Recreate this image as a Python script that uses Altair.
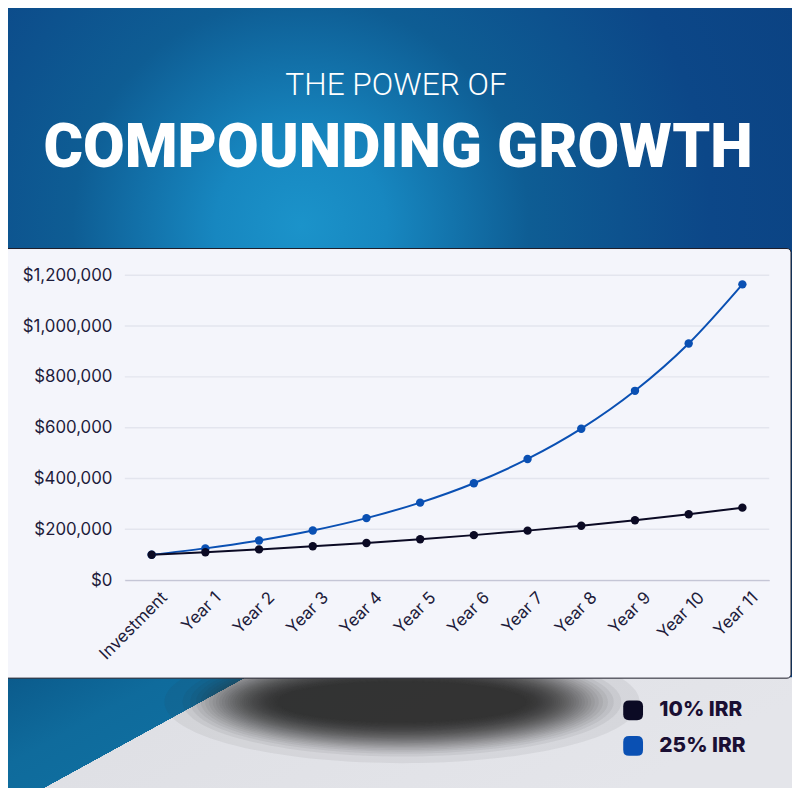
import altair as alt
import pandas as pd

# ---- data ----
labels = ["Investment", "Year 1", "Year 2", "Year 3", "Year 4", "Year 5", "Year 6",
          "Year 7", "Year 8", "Year 9", "Year 10", "Year 11"]
irr10 = [100000, 110000, 121000, 133100, 146410, 161051, 177156, 194872,
         214359, 235795, 259374, 285312]
irr25 = [100000, 125000, 156250, 195313, 244141, 305176, 381470, 476837,
         596046, 745058, 931323, 1164153]
series_names = ["10% IRR", "25% IRR"]
series_colors = ["#0b0a24", "#0a50b3"]
y_ticks = [0, 200000, 400000, 600000, 800000, 1000000, 1200000]

# 25% rows first so the 10% series is drawn on top
df = pd.DataFrame({
    "period": labels * 2,
    "value": irr25 + irr10,
    "series": [series_names[1]] * len(labels) + [series_names[0]] * len(labels),
})
grid_df = pd.DataFrame({"value": y_ticks})
one = pd.DataFrame({"k": [0]})

TXT = "#1d1b3a"
FONT = "Inter"

x_enc = alt.X("period:N", sort=labels,
              scale=alt.Scale(type="point", padding=0.5),
              axis=alt.Axis(title=None, labelAngle=-45, labelFontSize=17, labelFont=FONT,
                            labelColor=TXT, labelPadding=9, labelOffset=7, ticks=False,
                            domain=True, domainColor="#c5c6d6", domainWidth=1.2,
                            grid=False, zindex=1))
y_axis = alt.Axis(title=None, values=y_ticks, format="$,.0f", labelFontSize=17,
                  labelFont=FONT, labelColor=TXT, labelPadding=13, ticks=False,
                  domain=False, grid=False, zindex=1)
y_enc = alt.Y("value:Q", scale=alt.Scale(domain=[0, 1200000], nice=False), axis=y_axis)

color_scale = alt.Scale(domain=series_names, range=series_colors)
rounded_sq = ("M-0.4,-1 L0.4,-1 Q1,-1 1,-0.4 L1,0.4 Q1,1 0.4,1 L-0.4,1 "
              "Q-1,1 -1,0.4 L-1,-0.4 Q-1,-1 -0.4,-1 Z")
legend = alt.Legend(title=None, orient="none", legendX=503, legendY=429,
                    symbolType=rounded_sq, symbolSize=400, symbolStrokeWidth=0,
                    labelFont=FONT, labelFontSize=21, labelFontWeight=800,
                    labelColor="#1a0f33", labelOffset=16, rowPadding=14,
                    padding=0, zindex=2)
color_enc = alt.Color("series:N", scale=color_scale, sort=series_names, legend=legend)

# ---- decorations (page background, panel, title) ----
bg_grad = {"gradient": "radial", "x1": 0.38, "y1": 0.28, "r1": 0,
           "x2": 0.38, "y2": 0.28, "r2": 0.72,
           "stops": [{"offset": 0, "color": "#1b93ca"},
                     {"offset": 0.15, "color": "#1787c0"},
                     {"offset": 0.4, "color": "#0e5d94"},
                     {"offset": 0.72, "color": "#0c4788"},
                     {"offset": 1, "color": "#0b4282"}]}
background = alt.Chart(one).mark_rect(fill=bg_grad).encode(
    x=alt.value(-126), x2=alt.value(674), y=alt.value(-274), y2=alt.value(526))

floor_grad = {"gradient": "linear", "x1": 0, "y1": 0, "x2": 0.983, "y2": 0.269,
              "stops": [{"offset": 0, "color": "#0b5a8b"},
                        {"offset": 0.2, "color": "#0f6b9c"},
                        {"offset": 0.294, "color": "#0f6d9e"},
                        {"offset": 0.2945, "color": "#dfe0e5"},
                        {"offset": 1, "color": "#e4e5ea"}]}
floor = alt.Chart(one).mark_rect(fill=floor_grad).encode(
    x=alt.value(-126), x2=alt.value(674), y=alt.value(406), y2=alt.value(526))

# soft elliptical shadow under the panel: stacked translucent ellipses
shadow_layers = []
n_sh = 40
for i in range(n_sh):
    s = (i / (n_sh - 1)) ** 0.5
    w = 480 - 230 * s
    h = 124 - 84 * s
    a = h / w
    shape = f"M-1,0 A1,{a:.3f} 0 1,0 1,0 A1,{a:.3f} 0 1,0 -1,0 Z"
    shadow_layers.append(
        alt.Chart(one).mark_point(shape=shape, filled=True, color="#262628",
                                  opacity=0.068, strokeWidth=0).encode(
            x=alt.value(280), y=alt.value(431), size=alt.value(w * w)))

panel = alt.Chart(one).mark_rect(fill="#f4f5fb", stroke="#1a1a26", strokeWidth=1,
                                 cornerRadius=4).encode(
    x=alt.value(-125), x2=alt.value(673), y=alt.value(-27), y2=alt.value(407))

title1 = alt.Chart(one).mark_text(text="THE POWER OF", font="Roboto",
                                  fontSize=32, fontWeight=300, color="white",
                                  align="center", baseline="alphabetic").encode(
    x=alt.value(274), y=alt.value(-182))
title2 = alt.Chart(one).mark_text(text="COMPOUNDING GROWTH", font="Roboto",
                                  fontSize=61, fontWeight=900, color="white",
                                  align="center", baseline="alphabetic").encode(
    x=alt.value(276), y=alt.value(-109))

# ---- data layers ----
grid = alt.Chart(grid_df).mark_rule(color="#e3e5ee", strokeWidth=1.5).encode(y=y_enc)

lines = alt.Chart(df).mark_line(strokeWidth=2, interpolate="monotone").encode(
    x=x_enc, y=y_enc, color=color_enc)
points = alt.Chart(df).mark_point(filled=True, size=72, opacity=1).encode(
    x=x_enc, y=y_enc, color=color_enc)

layers = [background, floor] + shadow_layers + [panel, title1, title2, grid, lines, points]

chart = alt.layer(*layers).properties(
    width=651, height=308,
    padding={"left": 118, "top": 266, "right": 23, "bottom": 206},
    autosize=alt.AutoSizeParams(type="none"),
    background="#0d5a92",
).configure_view(stroke=None)

chart.save("out.html", embed_options={"renderer": "svg", "actions": False})
